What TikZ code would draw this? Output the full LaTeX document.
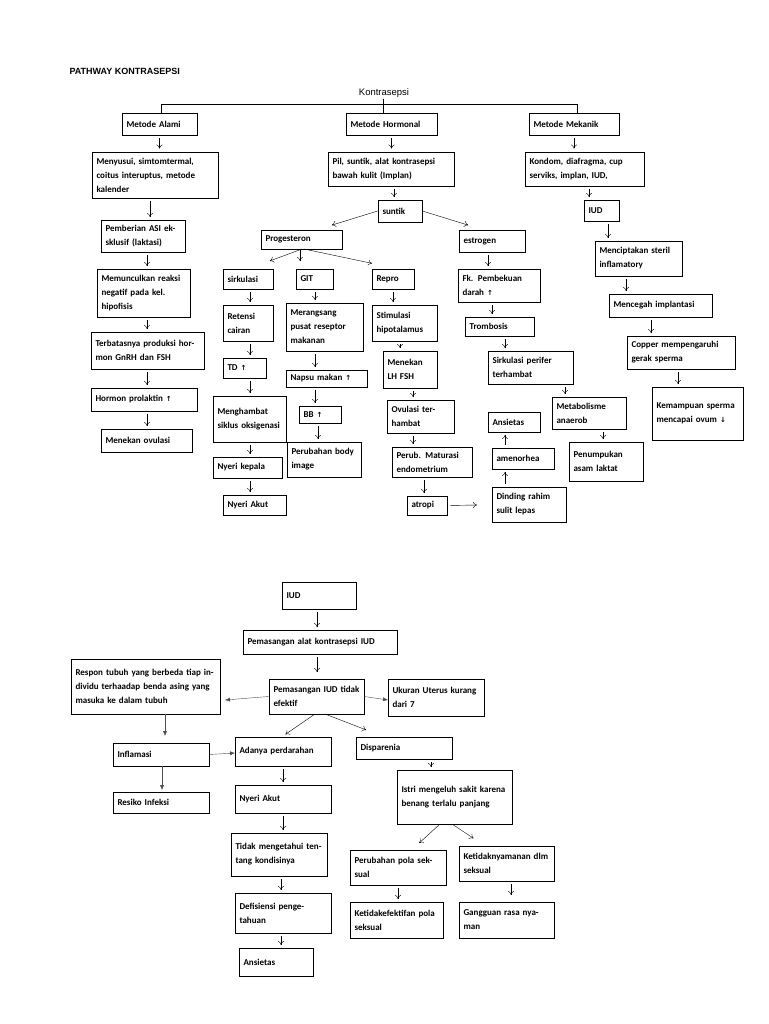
\documentclass[tikz,border=0pt]{standalone}
\usepackage{fontspec}
\setmainfont{Carlito}
\newfontfamily\symf{DejaVu Sans}
\newfontfamily\arialf{Liberation Sans}
\usetikzlibrary{arrows.meta}
\newcommand{\up}[0] {{\symf\fontsize{7}{7}\selectfont ↑}}
\newcommand{\dn}[0] {{\symf\fontsize{7}{7}\selectfont ↓}}
% box from corner (x1,y1) to corner (x2,y2)
\newcommand{\bx}[6] {\node[box, minimum width={#4pt-#2pt}, minimum height={#5pt-#3pt},
  text width={#4pt-#2pt-9pt}] (#1) at ({(#2+#4)/2},{(#3+#5)/2}) {#6};}
\tikzset{
  box/.style={draw=black, thick, inner sep=0pt, align=left, font=\bfseries\fontsize{9}{14}\selectfont},
  cbox/.style={align=center},
  arr/.style={-{To[length=4pt,width=6pt]}, thin, shorten >=3pt, shorten <=3pt},
  farr/.style={-{Latex[length=5pt,width=4pt]}, thin, draw=black!70}
}
\begin{document}
\begin{tikzpicture}[x=1pt,y=-1pt]
        \useasboundingbox (0,0) rectangle (768,1024);
        %title
        \node[anchor=west, font=\arialf\bfseries\fontsize{9}{9}\selectfont] (title) at (66,71) {PATHWAY KONTRASEPSI};
        \node[font=\arialf\fontsize{9.5}{9}\selectfont] (root) at (384,93) {Kontrasepsi};
        %three methods
        \bx{alami}{122}{113}{197}{135}{Metode Alami}
        \bx{hormon}{346}{113}{437}{135}{Metode Hormonal}
        \bx{mekanik}{529}{113}{619}{135}{Metode Mekanik}
        \coordinate (jl) at (161,104);
        \coordinate (jr) at (577,104);
        \draw[thick] (alami.north -| jl) -- (jl) -- (jr) -- (mekanik.north -| jr);
        \draw[thick] (383,99) -- (383,113);
        %alami column
        \bx{menyusui}{92}{152}{218}{198}{Menyusui, simtomtermal, coitus interuptus, metode kalender}
        \bx{asi}{101}{220}{185}{252}{Pemberian ASI eksklusif (laktasi)}
        \bx{memunculkan}{97}{269}{190}{317}{Memunculkan reaksi negatif pada kel. hipofisis}
        \bx{terbatas}{91}{332}{204}{369}{Terbatasnya produksi hormon GnRH dan FSH}
        \bx{prolaktin}{91}{388}{197}{411}{Hormon prolaktin \up}
        \bx{menekanov}{101}{429}{192}{452}{Menekan ovulasi}
        %hormonal column
        \bx{pil}{328}{152}{454}{186}{Pil, suntik, alat kontrasepsi bawah kulit (Implan)}
        \bx{suntik}{378}{200}{422}{222}{suntik}
        \bx{progesteron}{261}{230}{342}{249}{Progesteron}
        \bx{estrogen}{459}{230}{525}{252}{estrogen}
        \bx{sirkulasi}{223}{269}{273}{289}{sirkulasi}
        \bx{git}{296}{269}{333}{289}{GIT}
        \bx{repro}{372}{269}{414}{289}{Repro}
        \bx{retensi}{223}{305}{273}{341}{Retensi cairan}
        \bx{td}{223}{358}{266}{378}{TD \up}
        \bx{menghambat}{213}{396}{286}{442}{Menghambat siklus oksigenasi}
        \bx{nyerikepala}{213}{457}{282}{478}{Nyeri kepala}
        \bx{nyeriakut}{223}{495}{286}{515}{Nyeri Akut}
        \bx{merangsang}{286}{303}{363}{351}{Merangsang pusat reseptor makanan}
        \bx{napsu}{286}{370}{367}{387}{Napsu makan \up}
        \bx{bb}{299}{406}{341}{423}{BB \up}
        \bx{bodyimage}{287}{442}{361}{477}{Perubahan body image}
        \bx{stimulasi}{372}{305}{437}{341}{Stimulasi hipotalamus}
        \bx{lhfsh}{383}{351}{437}{388}{Menekan LH FSH}
        \bx{ovulasi}{387}{400}{454}{433}{Ovulasi terhambat}
        \bx{maturasi}{392}{447}{472}{477}{Perub. Maturasi endometrium}
        \bx{atropi}{407}{496}{447}{515}{atropi}
        \bx{dinding}{492}{487}{566}{522}{Dinding rahim sulit lepas}
        \bx{amenorhea}{492}{448}{554}{469}{amenorhea}
        \bx{ansietasa}{488}{412}{540}{432}{Ansietas}
        \bx{pembekuan}{458}{269}{540}{302}{Fk. Pembekuan darah \up}
        \bx{trombosis}{465}{317}{534}{336}{Trombosis}
        \bx{perifer}{488}{351}{573}{384}{Sirkulasi perifer terhambat}
        \bx{metabolisme}{552}{397}{626}{429}{Metabolisme anaerob}
        \bx{laktat}{569}{442}{643}{481}{Penumpukan asam laktat}
        %mekanik column
        \bx{kondom}{525}{152}{644}{186}{Kondom, diafragma, cup serviks, implan, IUD,}
        \bx{iud}{584}{200}{619}{221}{IUD}
        \bx{steril}{595}{241}{682}{276}{Menciptakan steril inflamatory}
        \bx{mencegah}{609}{294}{712}{317}{Mencegah implantasi}
        \bx{copper}{627}{336}{735}{369}{Copper mempengaruhi gerak sperma}
        \bx{kemampuan}{652}{387}{743}{440}{Kemampuan sperma mencapai ovum \dn}
        %connections of the upper pathway
        \draw[arr] (alami) -- (alami.south |- menyusui.north);
        \draw[arr] (hormon) -- (hormon.south |- pil.north);
        \draw[arr] (mekanik) -- (mekanik.south |- kondom.north);
        \draw[arr] (menyusui.south -| 150,0) -- (150,220);
        \draw[arr] (asi.south -| 147,0) -- (147,269);
        \draw[arr] (memunculkan.south -| 147,0) -- (147,332);
        \draw[arr] (terbatas.south -| 147,0) -- (147,388);
        \draw[arr] (prolaktin.south -| 147,0) -- (147,429);
        \draw[arr] (pil.south -| 394,0) -- (394,200);
        \draw[arr, shorten <=0pt] (suntik.west) -- (329,226);
        \draw[arr, shorten <=0pt] (suntik.east) -- (471,226);
        \draw[arr, shorten <=0pt] (302,249) -- (267,262);
        \draw[arr, shorten <=0pt] (300,249) -- (300,264);
        \draw[arr, shorten <=0pt] (304,249) -- (375,264);
        \draw[arr] (sirkulasi.south -| 250,0) -- (250,305);
        \draw[arr] (retensi.south -| 250,0) -- (250,358);
        \draw[arr] (td.south -| 250,0) -- (250,396);
        \draw[arr] (menghambat.south -| 250,0) -- (250,457);
        \draw[arr] (nyerikepala.south -| 250,0) -- (250,495);
        \draw[arr] (git.south -| 315,0) -- (315,303);
        \draw[arr] (merangsang.south -| 315,0) -- (315,370);
        \draw[arr] (napsu.south -| 315,0) -- (315,406);
        \draw[arr] (bb.south -| 318,0) -- (318,442);
        \draw[arr] (repro.south -| 393,0) -- (393,305);
        \draw[arr] (stimulasi.south -| 400,0) -- (400,351);
        \draw[arr] (lhfsh.south -| 413,0) -- (413,400);
        \draw[arr] (ovulasi.south -| 413,0) -- (413,447);
        \draw[arr] (maturasi.south -| 424,0) -- (424,496);
        \draw[arr, shorten >=0pt] (atropi.east) -- (477,505);
        \draw[arr] (dinding.north -| 505,0) -- (505,469);
        \draw[arr] (amenorhea.north -| 505,0) -- (505,432);
        \draw[arr] (estrogen.south -| 488,0) -- (488,269);
        \draw[arr] (pembekuan.south -| 492,0) -- (492,317);
        \draw[arr] (trombosis.south -| 505,0) -- (505,351);
        \draw[arr] (perifer.south -| 565,0) -- (565,397);
        \draw[arr] (metabolisme.south -| 603,0) -- (603,442);
        \draw[arr] (kondom.south -| 589,0) -- (589,200);
        \draw[arr] (iud.south -| 608,0) -- (608,241);
        \draw[arr] (steril.south -| 626,0) -- (626,294);
        \draw[arr] (mencegah.south -| 651,0) -- (651,336);
        \draw[arr] (copper.south -| 678,0) -- (678,387);
        %lower pathway
        \bx{iudb}{282}{582}{356}{609}{\centering IUD}
        \bx{alat}{243}{630}{397}{654}{\centering Pemasangan alat kontrasepsi IUD}
        \bx{respon}{71}{659}{220}{714}{\centering Respon tubuh yang berbeda tiap individu terhaadap benda asing yang masuka ke dalam tubuh}
        \bx{tidakefektif}{269}{679}{364}{714}{\centering Pemasangan IUD tidak efektif}
        \bx{ukuran}{388}{679}{484}{716}{\centering Ukuran Uterus kurang dari 7}
        \bx{inflamasi}{113}{743}{209}{766}{\centering Inflamasi}
        \bx{perdarahan}{235}{737}{331}{766}{\centering Adanya perdarahan}
        \bx{disparenia}{356}{737}{452}{759}{\centering Disparenia}
        \bx{resiko}{113}{792}{209}{813}{\centering Resiko Infeksi}
        \bx{nyeriakutb}{235}{785}{331}{813}{\centering Nyeri Akut}
        \bx{tidaktahu}{231}{833}{327}{876}{\centering Tidak mengetahui tentang kondisinya}
        \bx{defisiensi}{235}{893}{331}{933}{\centering Defisiensi pengetahuan}
        \bx{ansietasb}{239}{948}{313}{976}{\centering Ansietas}
        \bx{istri}{397}{770}{512}{824}{\centering Istri mengeluh sakit karena benang terlalu panjang}
        \bx{polaseks}{350}{850}{446}{885}{\centering Perubahan pola seksual}
        \bx{nyamanseks}{459}{846}{554}{881}{\centering Ketidaknyamanan dlm seksual}
        \bx{ketidakefektifan}{350}{902}{443}{938}{Ketidakefektifan pola seksual}
        \bx{gangguan}{459}{902}{554}{938}{\centering Gangguan rasa nyaman}
        %connections of the lower pathway
        \draw[arr] (iudb.south -| 317,0) -- (317,630);
        \draw[arr] (alat.south -| 317,0) -- (317,675);
        \draw[farr] (tidakefektif.west) -- (225,700);
        \draw[farr] (tidakefektif.east) -- (388,700);
        \draw[farr] (respon.south -| 165,0) -- (165,736);
        \draw[farr] (inflamasi.east) -- (235,753);
        \draw[farr] (inflamasi.south -| 162,0) -- (162,790);
        \draw[arr, shorten <=0pt] (315,714) -- (283,736);
        \draw[arr, shorten <=0pt] (325,714) -- (369,731);
        \draw[arr] (disparenia.south -| 431,0) -- (431,770);
        \draw[arr, shorten <=0pt] (440,824) -- (417,845);
        \draw[arr, shorten <=0pt] (452,824) -- (476,840);
        \draw[arr] (perdarahan.south -| 283,0) -- (283,785);
        \draw[arr] (nyeriakutb.south -| 283,0) -- (283,833);
        \draw[arr] (tidaktahu.south -| 281,0) -- (281,893);
        \draw[arr] (defisiensi.south -| 281,0) -- (281,948);
        \draw[arr] (polaseks.south -| 398,0) -- (398,902);
        \draw[arr] (nyamanseks.south -| 511,0) -- (511,898);
\end{tikzpicture}
\end{document}
